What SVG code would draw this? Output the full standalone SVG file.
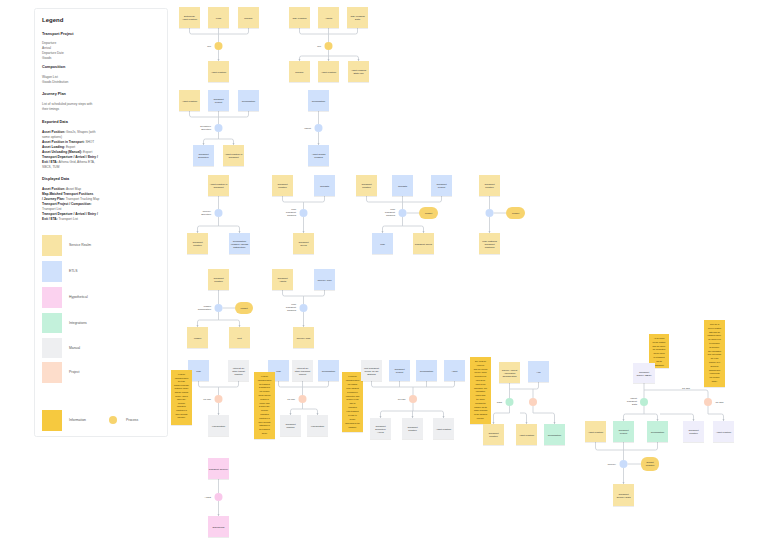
<svg xmlns="http://www.w3.org/2000/svg" width="768" height="543" viewBox="0 0 768 543">
<style>
text{font-family:"Liberation Sans",Arial,sans-serif;fill:#2b2f33}
.t{font-size:2.4px;text-anchor:middle}
.l{font-size:2.4px;text-anchor:end;fill:#444}
.n{font-size:1.9px;text-anchor:middle;fill:#3a3000}
.h{font-size:3.8px;font-weight:bold;fill:#1f2328}
.b{font-size:3.2px;fill:#666}
.bb{font-weight:bold;fill:#1f2328}
.lg{font-size:3.4px;fill:#555}
.sr{fill:#F8E4A4}
.et{fill:#D0E1FC}
.hy{fill:#FBD2EF}
.in{fill:#C3F1DB}
.ma{fill:#EEEFF1}
.pr{fill:#FDDDCB}
.lv{fill:#EFEEFB}
.inf{fill:#F6C93F}
.box{filter:url(#sh)}
.cy{fill:#F7D46E}
.cb{fill:#C9DCFB}
.cp{fill:#FCD3BF}
.cg{fill:#B9EED4}
.ck{fill:#F9C8EB}
.c{fill:none;stroke:#C8CDD3;stroke-width:0.8}
.a{marker-end:url(#ar)}
</style>
<defs>
<filter id="sh" x="-20%" y="-20%" width="140%" height="150%"><feDropShadow dx="0" dy="0.5" stdDeviation="0.5" flood-color="#000" flood-opacity="0.15"/></filter>
<marker id="ar" viewBox="0 0 6 6" refX="5" refY="3" markerWidth="3" markerHeight="3" orient="auto"><path d="M0,0.5 L5,3 L0,5.5 z" fill="#B8BEC5"/></marker>
</defs>
<rect width="768" height="543" fill="#ffffff"/>

<g id="legend">
<rect x="34.5" y="8.5" width="133" height="428" rx="2" fill="#fff" stroke="#E6E8EB" stroke-width="0.8"/>
<text x="42" y="22" style="font-size:6px;font-weight:bold;fill:#1f2328">Legend</text>
<text x="42" y="35" class="h">Transport Project</text>
<text x="42" y="44" class="b">Departure</text>
<text x="42" y="49" class="b">Arrival</text>
<text x="42" y="54" class="b">Departure Date</text>
<text x="42" y="59" class="b">Goods</text>
<text x="42" y="68" class="h">Composition</text>
<text x="42" y="78" class="b">Wagon List</text>
<text x="42" y="83" class="b">Goods Distribution</text>
<text x="42" y="95" class="h">Journey Plan</text>
<text x="42" y="105" class="b">List of scheduled journey steps with</text>
<text x="42" y="110" class="b">their timings</text>
<text x="42" y="123" class="h">Exported Data</text>
<text x="42" y="133" class="b"><tspan class="bb">Asset Position:</tspan> GeoJs, Shapes (with</text>
<text x="42" y="138" class="b">some options)</text>
<text x="42" y="143" class="b"><tspan class="bb">Asset Position in Transport:</tspan> SHOT</text>
<text x="42" y="148" class="b"><tspan class="bb">Asset Loading:</tspan> Export</text>
<text x="42" y="153" class="b"><tspan class="bb">Asset Unloading (Manual):</tspan> Export</text>
<text x="42" y="158" class="b"><tspan class="bb">Transport Departure / Arrival / Entry /</tspan></text>
<text x="42" y="163" class="b"><tspan class="bb">Exit / ETA:</tspan> Athena Grid, Athena ETA,</text>
<text x="42" y="168" class="b">SBCS, TUM</text>
<text x="42" y="180" class="h">Displayed Data</text>
<text x="42" y="190" class="b"><tspan class="bb">Asset Position:</tspan> Asset Map</text>
<text x="42" y="195" class="b"><tspan class="bb">Map-Matched Transport Positions</tspan></text>
<text x="42" y="200" class="b"><tspan class="bb">/ Journey Plan:</tspan> Transport Tracking Map</text>
<text x="42" y="205" class="b"><tspan class="bb">Transport Project / Composition:</tspan></text>
<text x="42" y="210" class="b">Transport List</text>
<text x="42" y="215" class="b"><tspan class="bb">Transport Departure / Arrival / Entry /</tspan></text>
<text x="42" y="220" class="b"><tspan class="bb">Exit / ETA:</tspan> Transport List</text>
<rect x="42" y="235" width="20" height="21" class="sr"/><text x="69" y="246" class="lg">Service Realm</text>
<rect x="42" y="261" width="20" height="21" class="et"/><text x="69" y="272" class="lg">ETLS</text>
<rect x="42" y="287" width="20" height="21" class="hy"/><text x="69" y="298" class="lg">Hypothetical</text>
<rect x="42" y="313" width="20" height="20" class="in"/><text x="69" y="324" class="lg">Integrations</text>
<rect x="42" y="338" width="20" height="20" class="ma"/><text x="69" y="349" class="lg">Manual</text>
<rect x="42" y="362" width="20" height="21" class="pr"/><text x="69" y="373" class="lg">Project</text>
<rect x="42" y="410" width="20" height="21" class="inf"/><text x="69" y="421" class="lg">Information</text>
<circle cx="113" cy="420" r="4" class="cy"/><text x="126" y="421" class="lg">Process</text>
</g>

<g id="connectors">
<!-- A -->
<path class="c" d="M189.5,28 V32 Q189.5,34 191.5,34 H218.5 M248.5,28 V32 Q248.5,34 246.5,34 H218.5 M218.5,28 V42"/>
<path class="c a" d="M218.5,50 V61"/>
<!-- B -->
<path class="c" d="M299.5,28 V32 Q299.5,34 301.5,34 H328.5 M357.5,28 V32 Q357.5,34 355.5,34 H328.5 M328.5,28 V42"/>
<path class="c a" d="M328.5,50 V61"/>
<path class="c a" d="M328.5,56 H301.5 Q299.5,56 299.5,58 V61"/>
<path class="c a" d="M328.5,56 H356.5 Q358.5,56 358.5,58 V61"/>
<!-- C -->
<path class="c" d="M189.5,111 V115 Q189.5,117 191.5,117 H218.5 M248.5,111 V115 Q248.5,117 246.5,117 H218.5 M218.5,111 V124 M218.5,132 V139"/>
<path class="c a" d="M218.5,139 H205.5 Q203.5,139 203.5,141 V145"/>
<path class="c a" d="M218.5,139 H231.5 Q233.5,139 233.5,141 V145"/>
<!-- D -->
<path class="c" d="M318.5,111 V124"/>
<path class="c a" d="M318.5,132 V145"/>
<!-- E -->
<path class="c" d="M218.5,196 V209 M218.5,217 V226"/>
<path class="c a" d="M218.5,226 H199.5 Q197.5,226 197.5,228 V233"/>
<path class="c a" d="M218.5,226 H237.5 Q239.5,226 239.5,228 V233"/>
<!-- F -->
<path class="c" d="M282.5,196 V200 Q282.5,202 284.5,202 H303.5 M324.5,196 V200 Q324.5,202 322.5,202 H303.5 M303.5,202 V209"/>
<path class="c a" d="M303.5,217 V233"/>
<!-- G -->
<path class="c" d="M366.5,196 V200 Q366.5,202 368.5,202 H402.5 M441.5,196 V200 Q441.5,202 439.5,202 H402.5 M402.5,196 V209 M402.5,217 V226 M406.5,213 H419"/>
<path class="c a" d="M402.5,226 H384.5 Q382.5,226 382.5,228 V233"/>
<path class="c a" d="M402.5,226 H421.5 Q423.5,226 423.5,228 V233"/>
<!-- H -->
<path class="c" d="M489.5,196 V209 M493.5,213 H506"/>
<path class="c a" d="M489.5,217 V233"/>
<!-- I -->
<path class="c" d="M218.5,290 V304 M218.5,312 V320 M222.5,308 H235"/>
<path class="c a" d="M218.5,320 H199.5 Q197.5,320 197.5,322 V327"/>
<path class="c a" d="M218.5,320 H237.5 Q239.5,320 239.5,322 V327"/>
<!-- J -->
<path class="c" d="M282.5,290 V294 Q282.5,296 284.5,296 H303.5 M324.5,290 V294 Q324.5,296 322.5,296 H303.5 M303.5,296 V304"/>
<path class="c a" d="M303.5,312 V327"/>
<!-- K -->
<path class="c" d="M198.5,381 V385 Q198.5,387 200.5,387 H218.5 M238.5,381 V385 Q238.5,387 236.5,387 H218.5 M218.5,387 V395"/>
<path class="c a" d="M218.5,403 V415"/>
<!-- L -->
<path class="c" d="M278.5,381 V385 Q278.5,387 280.5,387 H302.5 M328.5,381 V385 Q328.5,387 326.5,387 H302.5 M302.5,381 V395 M302.5,403 V409"/>
<path class="c a" d="M302.5,409 H292.5 Q290.5,409 290.5,411 V415"/>
<path class="c a" d="M302.5,409 H315.5 Q317.5,409 317.5,411 V415"/>
<!-- M -->
<path class="c" d="M371.5,381 V385 Q371.5,387 373.5,387 H452.5 Q454.5,387 454.5,385 V381 M399.5,381 V387 M426.5,381 V387 M413,387 V395 M413,403 V411"/>
<path class="c a" d="M413,411 H382.5 Q380.5,411 380.5,413 V418"/>
<path class="c a" d="M413,411 H412.5 V418"/>
<path class="c a" d="M413,411 H441.5 Q443.5,411 443.5,413 V418"/>
<!-- N -->
<path class="c" d="M509.5,383 V398 M538.5,382 V387 Q538.5,389 536.5,389 H509.5 M533,389 V398 M509.5,406 V413 M533,406 V413"/>
<path class="c a" d="M509.5,413 H495.5 Q493.5,413 493.5,415 V424"/>
<path class="c a" d="M520,413 H524.5 Q526.5,413 526.5,415 V424"/>
<path class="c a" d="M533,413 H552.5 Q554.5,413 554.5,415 V424"/>
<!-- O -->
<path class="c" d="M644,383 V398 M644,390 H706 Q708,390 708,392 V398 M644,406 V414 M708,406 V414"/>
<path class="c a" d="M644,414 H625.5 Q623.5,414 623.5,416 V421"/>
<path class="c a" d="M644,414 H655.5 Q657.5,414 657.5,416 V421"/>
<path class="c a" d="M660,414 H691.5 Q693.5,414 693.5,416 V421"/>
<path class="c a" d="M708,414 H721.5 Q723.5,414 723.5,416 V421"/>
<!-- P -->
<path class="c" d="M595.5,442 V448 Q595.5,450 597.5,450 H655.5 Q657.5,450 657.5,448 V442 M623.5,442 V460 M627.5,464 H641"/>
<path class="c a" d="M623.5,468 V484"/>
<!-- Q -->
<path class="c" d="M218.5,479 V493"/>
<path class="c a" d="M218.5,501 V516"/>
</g>

<g id="A1"><rect class="sr box" x="179" y="7" width="21" height="21"/><text class="t" x="189.5" y="17"><tspan x="189.5">Enterprise</tspan><tspan x="189.5" dy="3">Asset Position</tspan></text></g>
<g id="A2"><rect class="sr box" x="208" y="7" width="21" height="21"/><text class="t" x="218.5" y="18.5">Load</text></g>
<g id="A3"><rect class="sr box" x="238" y="7" width="21" height="21"/><text class="t" x="248.5" y="18.5">Railway</text></g>
<g id="Ap"><circle class="cy" cx="218.5" cy="46" r="4"/><text class="l" x="211" y="47">Ref</text></g>
<g id="A4"><rect class="sr box" x="208" y="61" width="21" height="21"/><text class="t" x="218.5" y="72.5">Asset Position</text></g>

<g id="B1"><rect class="sr box" x="289" y="7" width="21" height="21"/><text class="t" x="299.5" y="18.5">CSV Position</text></g>
<g id="B2"><rect class="sr box" x="318" y="7" width="21" height="21"/><text class="t" x="328.5" y="18.5">Assets</text></g>
<g id="B3"><rect class="sr box" x="347" y="7" width="21" height="21"/><text class="t" x="357.5" y="17"><tspan x="357.5">CSV Loading</tspan><tspan x="357.5" dy="3">Data</tspan></text></g>
<g id="Bp"><circle class="cy" cx="328.5" cy="46" r="4"/><text class="l" x="321" y="47">Ref</text></g>
<g id="B4"><rect class="sr box" x="289" y="61" width="21" height="21"/><text class="t" x="299.5" y="72.5">Railway</text></g>
<g id="B5"><rect class="sr box" x="318" y="61" width="21" height="21"/><text class="t" x="328.5" y="72.5">Asset Position</text></g>
<g id="B6"><rect class="sr box" x="348" y="61" width="21" height="21"/><text class="t" x="358.5" y="71"><tspan x="358.5">Asset Loading</tspan><tspan x="358.5" dy="3">State Info</tspan></text></g>

<g id="C1"><rect class="sr box" x="179" y="90" width="21" height="21"/><text class="t" x="189.5" y="101.5">Asset Position</text></g>
<g id="C2"><rect class="et box" x="208" y="90" width="21" height="21"/><text class="t" x="218.5" y="100"><tspan x="218.5">Transport</tspan><tspan x="218.5" dy="3">Project</tspan></text></g>
<g id="C3"><rect class="et box" x="238" y="90" width="21" height="21"/><text class="t" x="248.5" y="101.5">Composition</text></g>
<g id="Cp"><circle class="cb" cx="218.5" cy="128" r="4"/><text class="l" x="211" y="127"><tspan x="211">Departure</tspan><tspan x="211" dy="3">Selection</tspan></text></g>
<g id="C4"><rect class="et box" x="193" y="145" width="21" height="21"/><text class="t" x="203.5" y="155"><tspan x="203.5">Transport</tspan><tspan x="203.5" dy="3">Departure</tspan></text></g>
<g id="C5"><rect class="sr box" x="223" y="145" width="21" height="21"/><text class="t" x="233.5" y="155"><tspan x="233.5">Asset Position in</tspan><tspan x="233.5" dy="3">Transport</tspan></text></g>

<g id="D1"><rect class="et box" x="308" y="90" width="21" height="21"/><text class="t" x="318.5" y="101.5">Composition</text></g>
<g id="Dp"><circle class="cb" cx="318.5" cy="128" r="4"/><text class="l" x="311" y="129">Import</text></g>
<g id="D2"><rect class="et box" x="308" y="145" width="21" height="21"/><text class="t" x="318.5" y="155"><tspan x="318.5">Asset Goods</tspan><tspan x="318.5" dy="3">Loading</tspan></text></g>

<g id="E1"><rect class="sr box" x="208" y="175" width="21" height="21"/><text class="t" x="218.5" y="185"><tspan x="218.5">Asset Position in</tspan><tspan x="218.5" dy="3">Transport</tspan></text></g>
<g id="Ep"><circle class="cb" cx="218.5" cy="213" r="4"/><text class="l" x="211" y="212"><tspan x="211">Journey</tspan><tspan x="211" dy="3">Selection</tspan></text></g>
<g id="E2"><rect class="sr box" x="187" y="233" width="21" height="21"/><text class="t" x="197.5" y="243"><tspan x="197.5">Transport</tspan><tspan x="197.5" dy="3">Position</tspan></text></g>
<g id="E3"><rect class="et box" x="229" y="233" width="21" height="21"/><text class="t" x="239.5" y="241.5"><tspan x="239.5">Composition</tspan><tspan x="239.5" dy="3">(Wagon) (Goods</tspan><tspan x="239.5" dy="3">distribution)</tspan></text></g>

<g id="F1"><rect class="sr box" x="272" y="175" width="21" height="21"/><text class="t" x="282.5" y="185"><tspan x="282.5">Transport</tspan><tspan x="282.5" dy="3">Position</tspan></text></g>
<g id="F2"><rect class="et box" x="314" y="175" width="21" height="21"/><text class="t" x="324.5" y="186.5">Geodata</text></g>
<g id="Fp"><circle class="cb" cx="303.5" cy="213" r="4"/><text class="l" x="296" y="210"><tspan x="296">Map</tspan><tspan x="296" dy="3">Transport</tspan><tspan x="296" dy="3">Tracking</tspan></text></g>
<g id="F3"><rect class="sr box" x="293" y="233" width="21" height="21"/><text class="t" x="303.5" y="243"><tspan x="303.5">Transport</tspan><tspan x="303.5" dy="3">arrival</tspan></text></g>

<g id="G1"><rect class="sr box" x="356" y="175" width="21" height="21"/><text class="t" x="366.5" y="185"><tspan x="366.5">Transport</tspan><tspan x="366.5" dy="3">Position</tspan></text></g>
<g id="G2"><rect class="et box" x="392" y="175" width="21" height="21"/><text class="t" x="402.5" y="186.5">Geodata</text></g>
<g id="G3"><rect class="et box" x="431" y="175" width="21" height="21"/><text class="t" x="441.5" y="185"><tspan x="441.5">Transport</tspan><tspan x="441.5" dy="3">Project</tspan></text></g>
<g id="Gp"><circle class="cb" cx="402.5" cy="213" r="4"/><text class="l" x="395" y="210"><tspan x="395">Map</tspan><tspan x="395" dy="3">Transport</tspan><tspan x="395" dy="3">Tracking</tspan></text></g>
<g id="Gpill"><rect class="cy" x="419" y="207" width="19" height="12" rx="6"/><text class="t" x="428.5" y="213.8">Leaflet</text></g>
<g id="G4"><rect class="et box" x="372" y="233" width="21" height="21"/><text class="t" x="382.5" y="244.5">Map</text></g>
<g id="G5"><rect class="sr box" x="413" y="233" width="21" height="21"/><text class="t" x="423.5" y="244.5">Transport arrival</text></g>

<g id="H1"><rect class="sr box" x="479" y="175" width="21" height="21"/><text class="t" x="489.5" y="185"><tspan x="489.5">Transport</tspan><tspan x="489.5" dy="3">Position</tspan></text></g>
<g id="Hp"><circle class="cb" cx="489.5" cy="213" r="4"/></g>
<g id="Hpill"><rect class="cy" x="506" y="207" width="19" height="12" rx="6"/><text class="t" x="515.5" y="213.8">Leaflet</text></g>
<g id="H2"><rect class="sr box" x="479" y="233" width="21" height="21"/><text class="t" x="489.5" y="241.5"><tspan x="489.5">Map-Matched</tspan><tspan x="489.5" dy="3">Transport</tspan><tspan x="489.5" dy="3">Positions</tspan></text></g>

<g id="I1"><rect class="sr box" x="208" y="269" width="21" height="21"/><text class="t" x="218.5" y="279"><tspan x="218.5">Transport</tspan><tspan x="218.5" dy="3">Position</tspan></text></g>
<g id="Ip"><circle class="cb" cx="218.5" cy="308" r="4"/><text class="l" x="211" y="307"><tspan x="211">Wagon</tspan><tspan x="211" dy="3">Composition</tspan></text></g>
<g id="Ipill"><rect class="cy" x="235" y="302" width="18" height="12" rx="6"/><text class="t" x="244" y="308.8">Leaflet</text></g>
<g id="I2"><rect class="sr box" x="187" y="327" width="21" height="21"/><text class="t" x="197.5" y="338.5">Wagon</text></g>
<g id="I3"><rect class="sr box" x="229" y="327" width="21" height="21"/><text class="t" x="239.5" y="338.5">Unit</text></g>

<g id="J1"><rect class="sr box" x="272" y="269" width="21" height="21"/><text class="t" x="282.5" y="279"><tspan x="282.5">Transport</tspan><tspan x="282.5" dy="3">Assets</tspan></text></g>
<g id="J2"><rect class="et box" x="314" y="269" width="21" height="21"/><text class="t" x="324.5" y="280.5">Journey Plan</text></g>
<g id="Jp"><circle class="cb" cx="303.5" cy="308" r="4"/><text class="l" x="296" y="305"><tspan x="296">Map</tspan><tspan x="296" dy="3">Transport</tspan><tspan x="296" dy="3">Tracking</tspan></text></g>
<g id="J3"><rect class="sr box" x="293" y="327" width="21" height="21"/><text class="t" x="303.5" y="338.5">Journey map</text></g>

<g id="K1"><rect class="et box" x="188" y="360" width="21" height="21"/><text class="t" x="198.5" y="371.5">Map</text></g>
<g id="K2"><rect class="ma box" x="228" y="360" width="21" height="21"/><text class="t" x="238.5" y="368.5"><tspan x="238.5">Interest for</tspan><tspan x="238.5" dy="3">other transit</tspan><tspan x="238.5" dy="3">position</tspan></text></g>
<g id="Kp"><circle class="cp" cx="218.5" cy="399" r="4"/><text class="l" x="211" y="400">TT calc</text></g>
<g id="K3"><rect class="ma box" x="208" y="415" width="21" height="21"/><text class="t" x="218.5" y="426.5">Visualization</text></g>
<g id="Knote"><rect class="inf box" x="171" y="370" width="21" height="55"/><text class="n" x="181.5" y="375"><tspan x="181.5">It can be</tspan><tspan x="181.5" dy="3.6">calculated when</tspan><tspan x="181.5" dy="3.6">the train</tspan><tspan x="181.5" dy="3.6">position is already</tspan><tspan x="181.5" dy="3.6">matched (ideally</tspan><tspan x="181.5" dy="3.6">with the network</tspan><tspan x="181.5" dy="3.6">model). This is</tspan><tspan x="181.5" dy="3.6">where ETA</tspan><tspan x="181.5" dy="3.6">could be</tspan><tspan x="181.5" dy="3.6">calculated,</tspan><tspan x="181.5" dy="3.6">resulting in a</tspan><tspan x="181.5" dy="3.6">more accurate</tspan><tspan x="181.5" dy="3.6">schedule.</tspan></text></g>

<g id="L1"><rect class="et box" x="268" y="360" width="21" height="21"/><text class="t" x="278.5" y="371.5">Map</text></g>
<g id="Lnote"><rect class="inf box" x="254" y="372" width="21" height="67"/><text class="n" x="264.5" y="377"><tspan x="264.5">It can be</tspan><tspan x="264.5" dy="3.8">calculated when</tspan><tspan x="264.5" dy="3.8">the transport</tspan><tspan x="264.5" dy="3.8">is matched to</tspan><tspan x="264.5" dy="3.8">the network</tspan><tspan x="264.5" dy="3.8">model and the</tspan><tspan x="264.5" dy="3.8">position is</tspan><tspan x="264.5" dy="3.8">known. This</tspan><tspan x="264.5" dy="3.8">is where ETA</tspan><tspan x="264.5" dy="3.8">could be</tspan><tspan x="264.5" dy="3.8">calculated</tspan><tspan x="264.5" dy="3.8">resulting in a</tspan><tspan x="264.5" dy="3.8">more accurate</tspan><tspan x="264.5" dy="3.8">estimation of</tspan><tspan x="264.5" dy="3.8">the transport</tspan><tspan x="264.5" dy="3.8">arrival.</tspan></text></g>
<g id="L2"><rect class="ma box" x="292" y="360" width="21" height="21"/><text class="t" x="302.5" y="368.5"><tspan x="302.5">Interest for</tspan><tspan x="302.5" dy="3">other transport</tspan><tspan x="302.5" dy="3">project</tspan></text></g>
<g id="L3"><rect class="et box" x="318" y="360" width="21" height="21"/><text class="t" x="328.5" y="371.5">Composition</text></g>
<g id="Lp"><circle class="cp" cx="302.5" cy="399" r="4"/><text class="l" x="295" y="400">TT calc</text></g>
<g id="L4"><rect class="ma box" x="280" y="415" width="21" height="21"/><text class="t" x="290.5" y="425"><tspan x="290.5">Transport</tspan><tspan x="290.5" dy="3">position</tspan></text></g>
<g id="L5"><rect class="ma box" x="307" y="415" width="21" height="21"/><text class="t" x="317.5" y="426.5">Visualization</text></g>

<g id="Mnote"><rect class="inf box" x="342" y="372" width="21" height="60"/><text class="n" x="352.5" y="377"><tspan x="352.5">It could be</tspan><tspan x="352.5" dy="3.9">calculated when</tspan><tspan x="352.5" dy="3.9">the loading</tspan><tspan x="352.5" dy="3.9">of the transport</tspan><tspan x="352.5" dy="3.9">is finished or</tspan><tspan x="352.5" dy="3.9">completed. This</tspan><tspan x="352.5" dy="3.9">is where it can</tspan><tspan x="352.5" dy="3.9">also be</tspan><tspan x="352.5" dy="3.9">calculated</tspan><tspan x="352.5" dy="3.9">if the transport</tspan><tspan x="352.5" dy="3.9">is ready to</tspan><tspan x="352.5" dy="3.9">depart,</tspan><tspan x="352.5" dy="3.9">depending on the</tspan><tspan x="352.5" dy="3.9">transport.</tspan></text></g>
<g id="M1"><rect class="ma box" x="361" y="360" width="21" height="21"/><text class="t" x="371.5" y="368.5"><tspan x="371.5">Wet Transport</tspan><tspan x="371.5" dy="3">Ready To Go</tspan><tspan x="371.5" dy="3">Stations</tspan></text></g>
<g id="M2"><rect class="et box" x="389" y="360" width="21" height="21"/><text class="t" x="399.5" y="370"><tspan x="399.5">Transport</tspan><tspan x="399.5" dy="3">Project</tspan></text></g>
<g id="M3"><rect class="et box" x="416" y="360" width="21" height="21"/><text class="t" x="426.5" y="371.5">Composition</text></g>
<g id="M4"><rect class="et box" x="444" y="360" width="21" height="21"/><text class="t" x="454.5" y="371.5">Asset</text></g>
<g id="Mp"><circle class="cp" cx="413" cy="399" r="4"/><text class="l" x="405.5" y="400">TT calc</text></g>
<g id="M5"><rect class="ma box" x="370" y="418" width="21" height="21"/><text class="t" x="380.5" y="426.5"><tspan x="380.5">Transport</tspan><tspan x="380.5" dy="3">Departure</tspan><tspan x="380.5" dy="3">Arrival</tspan></text></g>
<g id="M6"><rect class="ma box" x="402" y="418" width="21" height="21"/><text class="t" x="412.5" y="428"><tspan x="412.5">Transport</tspan><tspan x="412.5" dy="3">Position</tspan></text></g>
<g id="M7"><rect class="ma box" x="433" y="418" width="21" height="21"/><text class="t" x="443.5" y="429.5">Asset Position</text></g>

<g id="Nnote"><rect class="inf box" x="470" y="357" width="21" height="67"/><text class="n" x="480.5" y="362"><tspan x="480.5">ETA could be</tspan><tspan x="480.5" dy="3.8">retrieved</tspan><tspan x="480.5" dy="3.8">from an external</tspan><tspan x="480.5" dy="3.8">service, which</tspan><tspan x="480.5" dy="3.8">would then be</tspan><tspan x="480.5" dy="3.8">used as an</tspan><tspan x="480.5" dy="3.8">input for the</tspan><tspan x="480.5" dy="3.8">calculation. The</tspan><tspan x="480.5" dy="3.8">information</tspan><tspan x="480.5" dy="3.8">comes from</tspan><tspan x="480.5" dy="3.8">the carrier</tspan><tspan x="480.5" dy="3.8">reporting the</tspan><tspan x="480.5" dy="3.8">position, but its</tspan><tspan x="480.5" dy="3.8">quality depends</tspan><tspan x="480.5" dy="3.8">on the transport</tspan><tspan x="480.5" dy="3.8">provider.</tspan></text></g>
<g id="N1"><rect class="sr box" x="499" y="362" width="21" height="21"/><text class="t" x="509.5" y="370.5"><tspan x="509.5">Carrier / Client</tspan><tspan x="509.5" dy="3">Application</tspan><tspan x="509.5" dy="3">Configuration</tspan></text></g>
<g id="N2"><rect class="et box" x="528" y="361" width="21" height="21"/><text class="t" x="538.5" y="372.5">App</text></g>
<g id="Np1"><circle class="cg" cx="509.5" cy="402" r="4"/><text class="l" x="502" y="403">Calls</text></g>
<g id="Np2"><circle class="cp" cx="533" cy="402" r="4"/></g>
<g id="N3"><rect class="sr box" x="483" y="424" width="21" height="21"/><text class="t" x="493.5" y="434"><tspan x="493.5">Transport</tspan><tspan x="493.5" dy="3">Position</tspan></text></g>
<g id="N4"><rect class="sr box" x="516" y="424" width="21" height="21"/><text class="t" x="526.5" y="435.5">Asset Position</text></g>
<g id="N5"><rect class="in box" x="544" y="424" width="21" height="21"/><text class="t" x="554.5" y="435.5">Composition</text></g>

<g id="O1"><rect class="sr box" x="585" y="421" width="21" height="21"/><text class="t" x="595.5" y="432.5">Asset Position</text></g>
<g id="Onote1"><rect class="inf box" x="649" y="334" width="20" height="34"/><text class="n" x="659" y="339"><tspan x="659">As we would</tspan><tspan x="659" dy="3.8">get the position</tspan><tspan x="659" dy="3.8">from the carrier,</tspan><tspan x="659" dy="3.8">the information</tspan><tspan x="659" dy="3.8">can be linked</tspan><tspan x="659" dy="3.8">to a transport</tspan><tspan x="659" dy="3.8">and its</tspan><tspan x="659" dy="3.8">composition.</tspan></text></g>
<g id="O2"><rect class="lv box" x="633" y="363" width="22" height="20"/><text class="t" x="644" y="372.5"><tspan x="644">Transport</tspan><tspan x="644" dy="3">Carrier (SBCI)</tspan></text></g>
<g id="Onote2"><rect class="inf box" x="704" y="320" width="21" height="67"/><text class="n" x="714.5" y="325"><tspan x="714.5">Were we to</tspan><tspan x="714.5" dy="3.8">receive position</tspan><tspan x="714.5" dy="3.8">data from the</tspan><tspan x="714.5" dy="3.8">transport carrier,</tspan><tspan x="714.5" dy="3.8">we would need</tspan><tspan x="714.5" dy="3.8">to determine</tspan><tspan x="714.5" dy="3.8">its accuracy.</tspan><tspan x="714.5" dy="3.8">The information</tspan><tspan x="714.5" dy="3.8">may not contain</tspan><tspan x="714.5" dy="3.8">the exact</tspan><tspan x="714.5" dy="3.8">position, so it</tspan><tspan x="714.5" dy="3.8">should be</tspan><tspan x="714.5" dy="3.8">matched and</tspan><tspan x="714.5" dy="3.8">verified with</tspan><tspan x="714.5" dy="3.8">the network</tspan><tspan x="714.5" dy="3.8">model.</tspan></text></g>
<g id="Olbl"><text class="t" x="686" y="388.5">TT calc</text></g>
<g id="Op1"><circle class="cg" cx="644" cy="402" r="4"/><text class="l" x="637" y="399"><tspan x="637">Import</tspan><tspan x="637" dy="3">Transport</tspan><tspan x="637" dy="3">Data</tspan></text></g>
<g id="Op2"><circle class="cp" cx="708" cy="402" r="4"/><text class="t" x="719.5" y="403">TT calc</text></g>
<g id="O3"><rect class="in box" x="613" y="421" width="21" height="21"/><text class="t" x="623.5" y="431"><tspan x="623.5">Transport</tspan><tspan x="623.5" dy="3">Project</tspan></text></g>
<g id="O4"><rect class="in box" x="647" y="421" width="21" height="21"/><text class="t" x="657.5" y="432.5">Composition</text></g>
<g id="O5"><rect class="lv box" x="683" y="421" width="21" height="21"/><text class="t" x="693.5" y="431"><tspan x="693.5">Transport</tspan><tspan x="693.5" dy="3">Position</tspan></text></g>
<g id="O6"><rect class="lv box" x="713" y="421" width="21" height="21"/><text class="t" x="723.5" y="432.5">Asset Position</text></g>

<g id="Pp"><circle class="cb" cx="623.5" cy="464" r="4"/><text class="l" x="616" y="465">Journey</text></g>
<g id="Ppill"><rect class="cy" x="641" y="457" width="18" height="14" rx="6"/><text class="t" x="650" y="463.3"><tspan x="650">Depart</tspan><tspan x="650" dy="3">Position</tspan></text></g>
<g id="P1"><rect class="sr box" x="613" y="484" width="21" height="22"/><text class="t" x="623.5" y="494.5"><tspan x="623.5">Transport</tspan><tspan x="623.5" dy="3">Journey Data</tspan></text></g>

<g id="Q1"><rect class="hy box" x="208" y="458" width="21" height="21"/><text class="t" x="218.5" y="469.5">Transport Journey</text></g>
<g id="Qp"><circle class="ck" cx="218.5" cy="497" r="4"/><text class="l" x="211" y="498">Assist</text></g>
<g id="Q2"><rect class="hy box" x="208" y="516" width="21" height="21"/><text class="t" x="218.5" y="527.5">Scheduling</text></g>
</svg>
